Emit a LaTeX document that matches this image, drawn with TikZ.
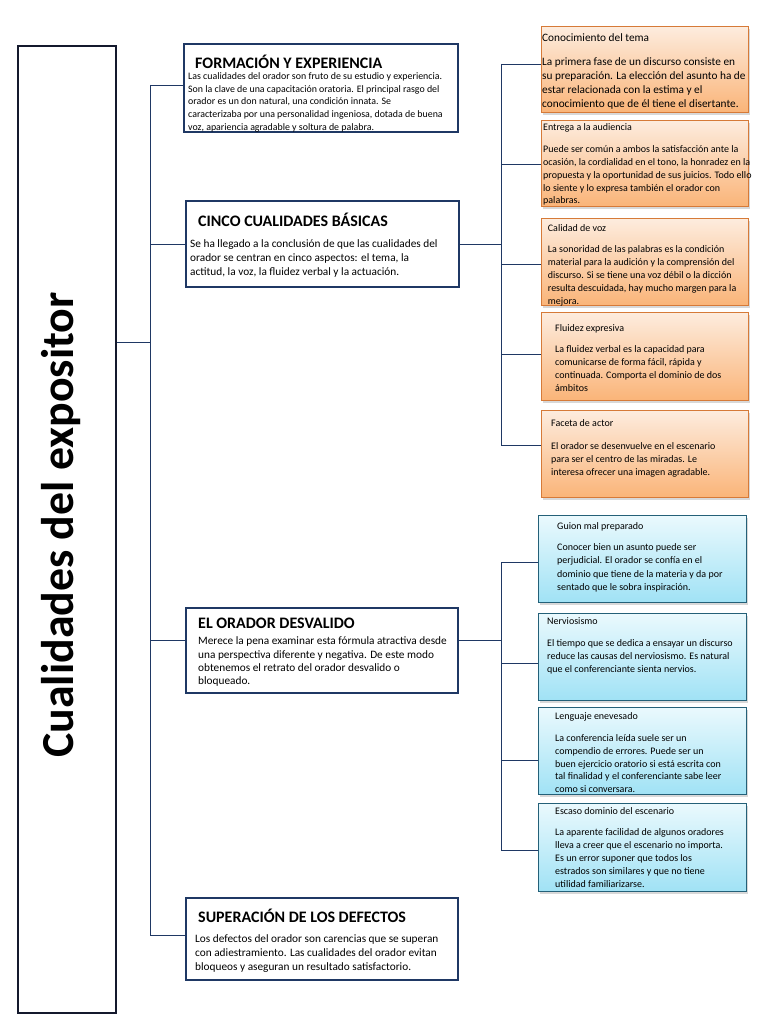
\documentclass[tikz,border=0pt]{standalone}
\usepackage{fontspec}
\setmainfont{Carlito}
\usetikzlibrary{shadows}
\newcommand{\fsz}[2]{\fontsize{#1}{#2}\selectfont}
\definecolor{navy}{RGB}{31,56,100}
\definecolor{mainedge}{RGB}{20,25,45}
\definecolor{obord}{RGB}{214,122,56}
\definecolor{otop}{RGB}{253,236,222}
\definecolor{obot}{RGB}{250,180,120}
\definecolor{bbord}{RGB}{36,96,120}
\definecolor{btop}{RGB}{234,249,253}
\definecolor{bbot}{RGB}{160,226,245}
\begin{document}
\begin{tikzpicture}[x=1pt,y=-1pt,
  conn/.style={draw=navy, line width=0.9pt},
  mainbox/.style={draw=mainedge, line width=2pt, inner sep=0, anchor=north west},
  midbox/.style={draw=navy, line width=1.8pt, fill=white, inner sep=0, anchor=north west},
  obox/.style={draw=obord, line width=1.1pt, top color=otop, bottom color=obot, inner sep=0, anchor=north west,
    drop shadow={shadow xshift=1pt, shadow yshift=-2pt, opacity=0.3}},
  bbox/.style={draw=bbord, line width=1.1pt, top color=btop, bottom color=bbot, inner sep=0, anchor=north west,
    drop shadow={shadow xshift=1pt, shadow yshift=-2pt, opacity=0.3}},
  txt/.style={anchor=north west, inner sep=0, align=left},
  ttl/.style={anchor=base west, inner sep=0},
  midttl/.style={ttl, font=\fsz{16}{19}\bfseries},
  smttl/.style={ttl, font=\fsz{10}{12}}
]
\useasboundingbox (0,0) rectangle (768,1024);
\fill[white] (0,0) rectangle (768,1024);

% main box
\node[mainbox, minimum width=98, minimum height=967] (L) at (17,45) {};
\node[rotate=90, font=\fsz{45.8}{52}\bfseries] (lt) at (61,525) {Cualidades del expositor};

% middle boxes
\node[midbox, minimum width=274, minimum height=87.5] (f) at (183,43.5) {};
\node[midbox, minimum width=273, minimum height=86] (c) at (185,200) {};
\node[midbox, minimum width=272, minimum height=85] (d) at (185,607) {};
\node[midbox, minimum width=272, minimum height=82] (s) at (185,897) {};

\node[midttl] (ft) at (195,68.5) {FORMACIÓN Y EXPERIENCIA};
\node[txt, font=\fsz{9.9}{12.8}] (fb) at (188,72.3) {Las cualidades del orador son fruto de su estudio y experiencia.\\
Son la clave de una capacitación oratoria. El principal rasgo del\\
orador es un don natural, una condición innata. Se\\
caracterizaba por una personalidad ingeniosa, dotada de buena\\
voz, apariencia agradable y soltura de palabra.};

\node[midttl] (ct) at (198,226) {CINCO CUALIDADES BÁSICAS};
\node[txt, font=\fsz{11.3}{14}] (cb) at (190,239.6) {Se ha llegado a la conclusión de que las cualidades del\\
orador se centran en cinco aspectos: el tema, la\\
actitud, la voz, la fluidez verbal y la actuación.};

\node[midttl] (dt) at (198,628.5) {EL ORADOR DESVALIDO};
\node[txt, font=\fsz{11.3}{13.4}] (db) at (198,636.6) {Merece la pena examinar esta fórmula atractiva desde\\
una perspectiva diferente y negativa. De este modo\\
obtenemos el retrato del orador desvalido o\\
bloqueado.};

\node[midttl] (st) at (198,922) {SUPERACIÓN DE LOS DEFECTOS};
\node[txt, font=\fsz{11.3}{14}] (sb) at (195,934.6) {Los defectos del orador son carencias que se superan\\
con adiestramiento. Las cualidades del orador evitan\\
bloqueos y aseguran un resultado satisfactorio.};

% orange boxes
\node[obox, minimum width=207, minimum height=86] (o1) at (541,26) {};
\node[obox, minimum width=207, minimum height=86] (o2) at (541,120) {};
\node[obox, minimum width=207, minimum height=87] (o3) at (541,218) {};
\node[obox, minimum width=207, minimum height=88] (o4) at (541,312) {};
\node[obox, minimum width=207, minimum height=87] (o5) at (541,410) {};

\node[ttl, font=\fsz{11.3}{13}] (o1t) at (542,41.3) {Conocimiento del tema};
\node[txt, font=\fsz{11.3}{14}] (o1b) at (542,57.3) {La primera fase de un discurso consiste en\\
su preparación. La elección del asunto ha de\\
estar relacionada con la estima y el\\
conocimiento que de él tiene el disertante.};

\node[smttl] (o2t) at (543,130.6) {Entrega a la audiencia};
\node[txt, font=\fsz{10}{12.9}] (o2b) at (543,145.2) {Puede ser común a ambos la satisfacción ante la\\
ocasión, la cordialidad en el tono, la honradez en la\\
propuesta y la oportunidad de sus juicios. Todo ello\\
lo siente y lo expresa también el orador con\\
palabras.};

\node[smttl] (o3t) at (547.7,231.3) {Calidad de voz};
\node[txt, font=\fsz{10}{13}] (o3b) at (547.7,245.2) {La sonoridad de las palabras es la condición\\
material para la audición y la comprensión del\\
discurso. Si se tiene una voz débil o la dicción\\
resulta descuidada, hay mucho margen para la\\
mejora.};

\node[smttl] (o4t) at (555,331.3) {Fluidez expresiva};
\node[txt, font=\fsz{10}{13}] (o4b) at (555,345.2) {La fluidez verbal es la capacidad para\\
comunicarse de forma fácil, rápida y\\
continuada. Comporta el dominio de dos\\
ámbitos};

\node[smttl] (o5t) at (551,426.6) {Faceta de actor};
\node[txt, font=\fsz{10}{13.3}] (o5b) at (551,441.9) {El orador se desenvuelve en el escenario\\
para ser el centro de las miradas. Le\\
interesa ofrecer una imagen agradable.};

% blue boxes
\node[bbox, minimum width=208, minimum height=87] (b1) at (538,515) {};
\node[bbox, minimum width=208, minimum height=87] (b2) at (538,613) {};
\node[bbox, minimum width=208, minimum height=87] (b3) at (538,707) {};
\node[bbox, minimum width=208, minimum height=88] (b4) at (538,803) {};

\node[smttl] (b1t) at (557,529) {Guion mal preparado};
\node[txt, font=\fsz{10}{13.3}] (b1b) at (557,543.5) {Conocer bien un asunto puede ser\\
perjudicial. El orador se confía en el\\
dominio que tiene de la materia y da por\\
sentado que le sobra inspiración.};

\node[smttl] (b2t) at (547,624) {Nerviosismo};
\node[txt, font=\fsz{10}{12.9}] (b2b) at (547,639.5) {El tiempo que se dedica a ensayar un discurso\\
reduce las causas del nerviosismo. Es natural\\
que el conferenciante sienta nervios.};

\node[smttl] (b3t) at (555,719) {Lenguaje enevesado};
\node[txt, font=\fsz{10}{12.7}] (b3b) at (555,734.5) {La conferencia leída suele ser un\\
compendio de errores. Puede ser un\\
buen ejercicio oratorio si está escrita con\\
tal finalidad y el conferenciante sabe leer\\
como si conversara.};

\node[smttl] (b4t) at (555,814) {Escaso dominio del escenario};
\node[txt, font=\fsz{10}{12.9}] (b4b) at (555,828.5) {La aparente facilidad de algunos oradores\\
lleva a creer que el escenario no importa.\\
Es un error suponer que todos los\\
estrados son similares y que no tiene\\
utilidad familiarizarse.};

% connectors: left trunk
\coordinate (k0) at (150,342);
\coordinate (kf) at (150,85);
\coordinate (kc) at (150,244);
\coordinate (kd) at (150,640);
\coordinate (ks) at (150,935);
\draw[conn] (k0 -| L.east) -- (k0);
\draw[conn] (kf) -- (ks);
\draw[conn] (kf) -- (kf -| f.west);
\draw[conn] (kc) -- (kc -| c.west);
\draw[conn] (kd) -- (kd -| d.west);
\draw[conn] (ks) -- (ks -| s.west);

% connectors: orange branch
\coordinate (ko) at (501,244);
\coordinate (ko1) at (501,64);
\coordinate (ko2) at (501,164);
\coordinate (ko3) at (501,264);
\coordinate (ko4) at (501,354);
\coordinate (ko5) at (501,445);
\draw[conn] (ko -| c.east) -- (ko);
\draw[conn] (ko1) -- (ko5);
\draw[conn] (ko1) -- (ko1 -| o1.west);
\draw[conn] (ko2) -- (ko2 -| o2.west);
\draw[conn] (ko3) -- (ko3 -| o3.west);
\draw[conn] (ko4) -- (ko4 -| o4.west);
\draw[conn] (ko5) -- (ko5 -| o5.west);

% connectors: blue branch
\coordinate (kb) at (501,640);
\coordinate (kb1) at (501,562);
\coordinate (kb2) at (501,663);
\coordinate (kb3) at (501,760);
\coordinate (kb4) at (501,850);
\draw[conn] (kb -| d.east) -- (kb);
\draw[conn] (kb1) -- (kb4);
\draw[conn] (kb1) -- (kb1 -| b1.west);
\draw[conn] (kb2) -- (kb2 -| b2.west);
\draw[conn] (kb3) -- (kb3 -| b3.west);
\draw[conn] (kb4) -- (kb4 -| b4.west);
\end{tikzpicture}
\end{document}
